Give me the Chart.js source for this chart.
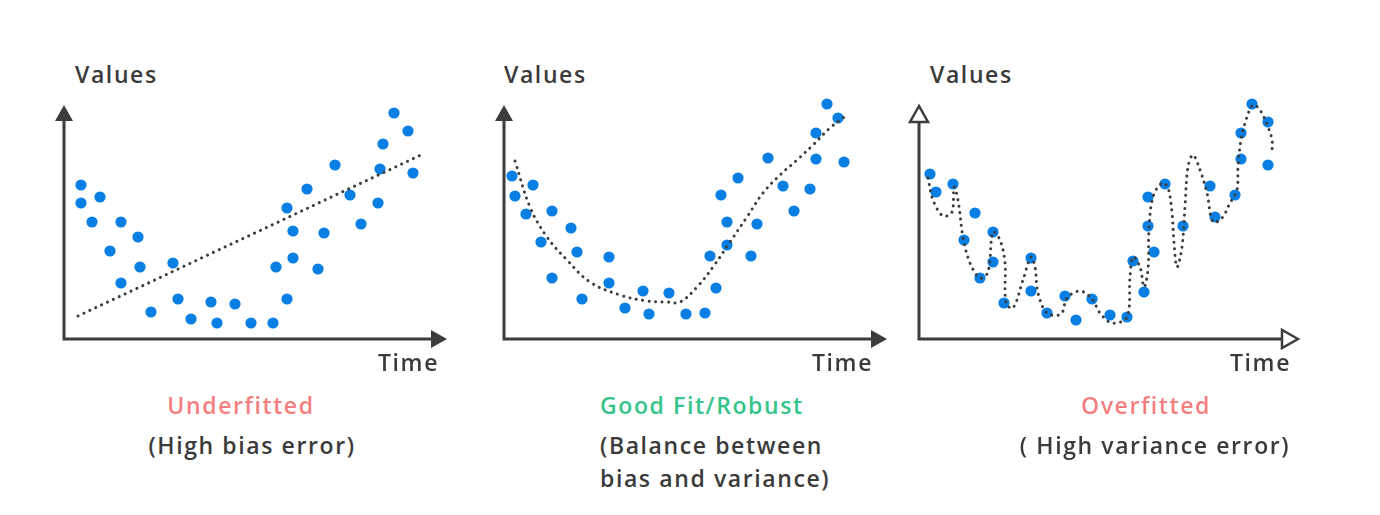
<!DOCTYPE html>
<html>
<head>
<meta charset="utf-8">
<script src="https://cdn.jsdelivr.net/npm/chart.js@4"></script>
<style>
  body { margin: 0; background: #fff; }
  #wrap { position: relative; width: 1380px; height: 515px; overflow: hidden; font-family: "Open Sans", sans-serif; }
  canvas { position: absolute; }
  .lbl { position: absolute; font-size: 23px; font-weight: 600; color: #3b3b3b; line-height: 24px; white-space: nowrap; letter-spacing: 1.6px; }
  .c { transform: translateX(-50%); }
</style>
</head>
<body>
<div id="wrap">
  <canvas id="under" width="413" height="264" style="left:49px;top:90px"></canvas>
  <canvas id="good" width="413" height="264" style="left:489px;top:90px"></canvas>
  <canvas id="over" width="409" height="263" style="left:904px;top:91px"></canvas>

  <div class="lbl" style="left:75px;top:62px">Values</div>
  <div class="lbl" style="left:504px;top:62px">Values</div>
  <div class="lbl" style="left:930px;top:62px">Values</div>
  <div class="lbl" style="left:378px;top:350px">Time</div>
  <div class="lbl" style="left:812px;top:350px">Time</div>
  <div class="lbl" style="left:1230px;top:350px">Time</div>

  <div class="lbl c" style="left:241px;top:393px;color:#f57f7f">Underfitted</div>
  <div class="lbl c" style="left:252px;top:433px">(High bias error)</div>
  <div class="lbl" style="left:600px;top:393px;color:#35c48a">Good Fit/Robust</div>
  <div class="lbl" style="left:600px;top:433px">(Balance between</div>
  <div class="lbl" style="left:600px;top:466px">bias and variance)</div>
  <div class="lbl c" style="left:1146px;top:393px;color:#f57f7f">Overfitted</div>
  <div class="lbl c" style="left:1155px;top:433px">( High variance error)</div>
</div>
<script>
// points: x = time, y = value (pixels from the axes)
const underX = [17, 17, 36, 28, 57, 74, 46, 76, 57, 109, 87, 114, 127, 147, 153, 171, 187, 209, 223, 212, 229, 229, 223, 243, 260, 254, 271, 286, 297, 314, 316, 319, 330, 344, 349];
const underY = [154, 136, 142, 117, 117, 102, 88, 72, 56, 76, 27, 40, 20, 37, 16, 35, 16, 16, 40, 72, 81, 108, 131, 150, 106, 70, 174, 144, 115, 136, 170, 195, 226, 208, 166];
const underFitX = [14, 359];
const underFitY = [23, 185];

const goodX = [8, 11, 29, 22, 48, 37, 67, 73, 48, 78, 105, 105, 121, 139, 145, 165, 182, 201, 212, 206, 223, 223, 217, 234, 253, 247, 264, 279, 290, 306, 312, 312, 323, 334, 340];
const goodY = [163, 143, 154, 125, 128, 97, 111, 87, 61, 40, 82, 56, 31, 48, 25, 46, 25, 26, 51, 83, 94, 117, 144, 161, 115, 83, 181, 153, 128, 150, 180, 206, 235, 221, 177];
const goodFitX = [11, 26, 43, 63, 86, 116, 143, 163, 176, 193, 209, 226, 243, 259, 276, 293, 309, 326, 343];
const goodFitY = [178, 132, 102, 79, 57, 44, 38, 37, 37, 52, 72, 97, 122, 146, 164, 179, 194, 211, 224];

const overX = [11, 17, 34, 56, 45, 74, 74, 61, 85, 112, 112, 128, 146, 157, 173, 191, 208, 214, 225, 235, 229, 229, 246, 264, 291, 296, 316, 322, 322, 333, 349, 349];
const overY = [165, 147, 155, 126, 99, 107, 77, 61, 36, 81, 48, 26, 43, 19, 40, 24, 22, 78, 47, 87, 113, 142, 155, 113, 153, 122, 144, 180, 206, 235, 217, 174];
const overFitX = [9, 14, 24, 33, 35, 39, 44, 51, 61, 69, 74, 81, 86, 87, 94, 104, 112, 116, 119, 128, 142, 148, 161, 173, 181, 193, 208, 211, 214, 221, 225, 229, 230, 234, 243, 249, 253, 255, 258, 263, 266, 269, 274, 281, 288, 294, 303, 311, 318, 319, 322, 328, 334, 341, 349, 353, 353];
const overFitY = [161, 139, 123, 127, 152, 139, 102, 76, 61, 67, 107, 99, 76, 36, 31, 59, 82, 72, 46, 26, 25, 41, 48, 40, 26, 16, 22, 62, 82, 72, 52, 69, 109, 142, 156, 151, 126, 96, 72, 92, 132, 172, 184, 169, 146, 117, 121, 136, 149, 172, 199, 222, 234, 229, 212, 199, 186];

const DOT = "#0a7fe3";
const INK = "#3d3d3d";

function pts(xs, ys) {
    return xs.map((x, i) => ({ x, y: ys[i] }));
}

// axes with arrow heads, drawn from the chart scales
const arrowAxes = {
    id: "arrowAxes",
    beforeDatasetsDraw(chart, args, opts) {
        const { ctx, scales: { x, y } } = chart;
        const x0 = x.getPixelForValue(0), y0 = y.getPixelForValue(0);
        const x1 = x.getPixelForValue(x.max), y1 = y.getPixelForValue(y.max);
        ctx.save();
        ctx.strokeStyle = INK;
        ctx.fillStyle = INK;
        ctx.lineWidth = 3;
        ctx.lineJoin = "miter";
        ctx.beginPath();
        ctx.moveTo(x0, y1 + 12);
        ctx.lineTo(x0, y0);
        ctx.lineTo(x1 - 12, y0);
        ctx.stroke();
        // heads
        const heads = [
            [[x0, y1], [x0 - 9, y1 + 16], [x0 + 9, y1 + 16]],
            [[x1, y0], [x1 - 16, y0 - 9], [x1 - 16, y0 + 9]]
        ];
        heads.forEach(h => {
            ctx.beginPath();
            ctx.moveTo(h[0][0], h[0][1]);
            ctx.lineTo(h[1][0], h[1][1]);
            ctx.lineTo(h[2][0], h[2][1]);
            ctx.closePath();
            if (opts.hollow) {
                ctx.fillStyle = "#fff";
                ctx.fill();
                ctx.lineWidth = 2.5;
                ctx.stroke();
            } else {
                ctx.fill();
            }
        });
        ctx.restore();
    }
};

function makeChart(id, xs, ys, fx, fy, xmax, ymax, tension, hollow) {
    return new Chart(document.getElementById(id), {
        type: "scatter",
        data: {
            datasets: [{
                data: pts(fx, fy),
                showLine: true,
                borderColor: INK,
                borderWidth: 3,
                borderDash: [0.1, 6.4],
                borderCapStyle: "round",
                tension,
                pointRadius: 0,
                clip: false,
                order: 1
            }, {
                data: pts(xs, ys),
                backgroundColor: DOT,
                borderColor: DOT,
                pointRadius: 5.6,
                pointBorderWidth: 0,
                clip: false,
                order: 2
            }]
        },
        options: {
            responsive: false,
            animation: false,
            layout: { padding: 15 },
            scales: {
                x: { type: "linear", min: 0, max: xmax, display: false },
                y: { type: "linear", min: 0, max: ymax, display: false }
            },
            plugins: {
                legend: { display: false },
                tooltip: { enabled: false },
                arrowAxes: { hollow }
            }
        },
        plugins: [arrowAxes]
    });
}

makeChart("under", underX, underY, underFitX, underFitY, 383, 234, 0, false);
makeChart("good", goodX, goodY, goodFitX, goodFitY, 383, 234, 0.4, false);
makeChart("over", overX, overY, overFitX, overFitY, 379, 233, 0.35, true);
</script>
</body>
</html>
